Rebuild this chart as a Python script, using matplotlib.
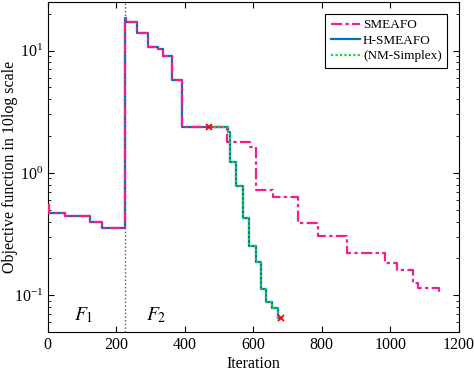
import matplotlib.pyplot as plt
import numpy as np

plt.rcParams['font.family'] = ['Liberation Serif', 'DejaVu Serif']
plt.rcParams['mathtext.fontset'] = 'stix'

# common part (F1 + start of F2), before the switch to NM-Simplex
it_common = [0, 3, 50, 123, 157, 225, 227, 260, 292, 322, 337, 361, 392, 471]
val_common = [0.547, 0.47, 0.445, 0.40, 0.356, 18.3, 17.1, 14.0, 10.6, 10.2, 9.0, 5.7, 2.38, 2.38]

# SMEAFO after switch point
it_sme = [522, 590, 607, 658, 731, 790, 872, 984, 1018, 1065, 1082, 1143]
val_sme = [1.79, 1.64, 0.73, 0.64, 0.39, 0.305, 0.22, 0.184, 0.162, 0.126, 0.115, 0.101]

# NM-Simplex part of H-SMEAFO
it_nm = [471, 527, 531, 548, 570, 587, 607, 621, 638, 653, 673, 680]
val_nm = [2.38, 2.15, 1.22, 0.78, 0.43, 0.252, 0.187, 0.113, 0.088, 0.078, 0.0645, 0.0645]

# switch / stop markers
mark_it = [471, 682]
mark_val = [2.38, 0.0645]

switch_it = 225

c_sme = '#f0208c'
c_h = '#0072bd'
c_nm = '#1ed03c'

fig = plt.figure(figsize=(4.74, 3.72), dpi=100)
ax = fig.add_axes([0.101, 0.1075, 0.867, 0.8875])

h_it = it_common + it_nm[1:]
h_val = val_common + val_nm[1:]
s_it = it_common + it_sme
s_val = val_common + val_sme

ax.axvline(switch_it, color='#555555', linestyle=':', linewidth=1.0, zorder=1)
ax.plot(h_it, h_val, drawstyle='steps-post', color=c_h, linewidth=1.6, label='H-SMEAFO', zorder=2)
ax.plot(s_it, s_val, drawstyle='steps-post', color=c_sme, linewidth=1.6, linestyle=(0, (5, 1.5, 1.5, 1.5)),
        label='SMEAFO', zorder=3)
ax.plot(it_nm, val_nm, drawstyle='steps-post', color=c_nm, linewidth=1.6, linestyle=(0, (1, 1)),
        label='(NM-Simplex)', zorder=4)
ax.plot(mark_it, mark_val, 'x', color='red', markersize=4, markeredgewidth=1.3, zorder=5)

ax.set_yscale('log')
ax.set_xlim(0, 1200)
ax.set_ylim(0.05, 25)
ax.set_xticks([0, 200, 400, 600, 800, 1000, 1200])
ax.tick_params(which='both', direction='in', top=True, right=True, labelsize=11.5)
ax.tick_params(which='major', length=4)
ax.tick_params(which='minor', length=2)

ax.set_xlabel('Iteration', fontsize=11.5, labelpad=2)
ax.set_ylabel('Objective function in 10log scale', fontsize=11.5)
ax.yaxis.set_label_coords(-0.072, 0.5)

ax.text(105, 0.069, '$F_1$', fontsize=14, ha='center', va='center')
ax.text(315, 0.069, '$F_2$', fontsize=14, ha='center', va='center')

handles, labels = ax.get_legend_handles_labels()
order = [1, 0, 2]
leg = ax.legend([handles[i] for i in order], [labels[i] for i in order], loc='upper right',
                fontsize=9.5, fancybox=False, edgecolor='black', framealpha=1,
                handlelength=2.2, borderaxespad=0.9, borderpad=0.4, labelspacing=0.25, handletextpad=0.25)
leg.get_frame().set_linewidth(0.8)

fig.savefig('out.png', dpi=100)
